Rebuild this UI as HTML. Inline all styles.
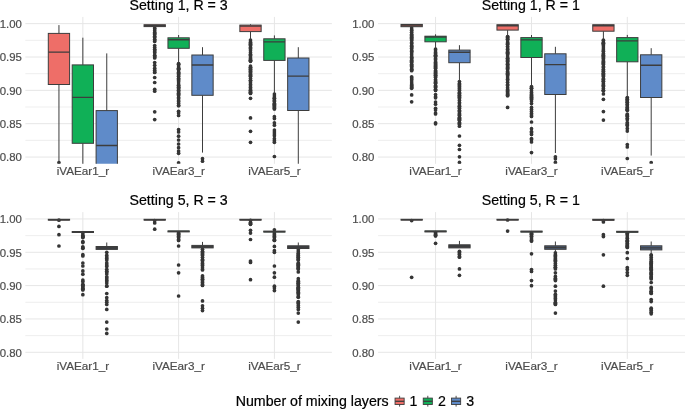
<!DOCTYPE html>
<html lang="en"><head><meta charset="utf-8"><title>Boxplots</title>
<style>html,body{margin:0;padding:0;background:#fff}svg{display:block}</style></head>
<body>
<svg width="685" height="409" viewBox="0 0 685 409" font-family="'Liberation Sans', Arial, Helvetica, sans-serif">
<rect width="685" height="409" fill="#fff"/>
<line x1="25.35" x2="331.9" y1="40.33" y2="40.33" stroke="#e3e3e3" stroke-width="0.6"/>
<line x1="25.35" x2="331.9" y1="73.68" y2="73.68" stroke="#e3e3e3" stroke-width="0.6"/>
<line x1="25.35" x2="331.9" y1="107.03" y2="107.03" stroke="#e3e3e3" stroke-width="0.6"/>
<line x1="25.35" x2="331.9" y1="140.38" y2="140.38" stroke="#e3e3e3" stroke-width="0.6"/>
<line x1="25.35" x2="331.9" y1="23.65" y2="23.65" stroke="#e6e6e6" stroke-width="1"/>
<text x="21.9" y="28.05" font-size="11.4" fill="#4d4d4d" stroke="#4d4d4d" stroke-width="0.2" text-anchor="end">1.00</text>
<line x1="25.35" x2="331.9" y1="57.00" y2="57.00" stroke="#e6e6e6" stroke-width="1"/>
<text x="21.9" y="61.40" font-size="11.4" fill="#4d4d4d" stroke="#4d4d4d" stroke-width="0.2" text-anchor="end">0.95</text>
<line x1="25.35" x2="331.9" y1="90.35" y2="90.35" stroke="#e6e6e6" stroke-width="1"/>
<text x="21.9" y="94.75" font-size="11.4" fill="#4d4d4d" stroke="#4d4d4d" stroke-width="0.2" text-anchor="end">0.90</text>
<line x1="25.35" x2="331.9" y1="123.70" y2="123.70" stroke="#e6e6e6" stroke-width="1"/>
<text x="21.9" y="128.10" font-size="11.4" fill="#4d4d4d" stroke="#4d4d4d" stroke-width="0.2" text-anchor="end">0.85</text>
<line x1="25.35" x2="331.9" y1="157.05" y2="157.05" stroke="#e6e6e6" stroke-width="1"/>
<text x="21.9" y="161.45" font-size="11.4" fill="#4d4d4d" stroke="#4d4d4d" stroke-width="0.2" text-anchor="end">0.80</text>
<line x1="82.85" x2="82.85" y1="16.9" y2="163.8" stroke="#e6e6e6" stroke-width="1"/>
<line x1="178.6" x2="178.6" y1="16.9" y2="163.8" stroke="#e6e6e6" stroke-width="1"/>
<line x1="274.4" x2="274.4" y1="16.9" y2="163.8" stroke="#e6e6e6" stroke-width="1"/>
<text x="82.85" y="175.35" font-size="11.7" fill="#4d4d4d" stroke="#4d4d4d" stroke-width="0.2" text-anchor="middle">iVAEar1_r</text>
<text x="178.6" y="175.35" font-size="11.7" fill="#4d4d4d" stroke="#4d4d4d" stroke-width="0.2" text-anchor="middle">iVAEar3_r</text>
<text x="274.4" y="175.35" font-size="11.7" fill="#4d4d4d" stroke="#4d4d4d" stroke-width="0.2" text-anchor="middle">iVAEar5_r</text>
<text x="178.62" y="9.80" font-size="14.2" fill="#000" stroke="#000" stroke-width="0.2" text-anchor="middle">Setting 1, R = 3</text>
<line x1="378.05" x2="685" y1="40.33" y2="40.33" stroke="#e3e3e3" stroke-width="0.6"/>
<line x1="378.05" x2="685" y1="73.68" y2="73.68" stroke="#e3e3e3" stroke-width="0.6"/>
<line x1="378.05" x2="685" y1="107.03" y2="107.03" stroke="#e3e3e3" stroke-width="0.6"/>
<line x1="378.05" x2="685" y1="140.38" y2="140.38" stroke="#e3e3e3" stroke-width="0.6"/>
<line x1="378.05" x2="685" y1="23.65" y2="23.65" stroke="#e6e6e6" stroke-width="1"/>
<text x="374.4" y="28.05" font-size="11.4" fill="#4d4d4d" stroke="#4d4d4d" stroke-width="0.2" text-anchor="end">1.00</text>
<line x1="378.05" x2="685" y1="57.00" y2="57.00" stroke="#e6e6e6" stroke-width="1"/>
<text x="374.4" y="61.40" font-size="11.4" fill="#4d4d4d" stroke="#4d4d4d" stroke-width="0.2" text-anchor="end">0.95</text>
<line x1="378.05" x2="685" y1="90.35" y2="90.35" stroke="#e6e6e6" stroke-width="1"/>
<text x="374.4" y="94.75" font-size="11.4" fill="#4d4d4d" stroke="#4d4d4d" stroke-width="0.2" text-anchor="end">0.90</text>
<line x1="378.05" x2="685" y1="123.70" y2="123.70" stroke="#e6e6e6" stroke-width="1"/>
<text x="374.4" y="128.10" font-size="11.4" fill="#4d4d4d" stroke="#4d4d4d" stroke-width="0.2" text-anchor="end">0.85</text>
<line x1="378.05" x2="685" y1="157.05" y2="157.05" stroke="#e6e6e6" stroke-width="1"/>
<text x="374.4" y="161.45" font-size="11.4" fill="#4d4d4d" stroke="#4d4d4d" stroke-width="0.2" text-anchor="end">0.80</text>
<line x1="435.55" x2="435.55" y1="16.9" y2="163.8" stroke="#e6e6e6" stroke-width="1"/>
<line x1="531.5" x2="531.5" y1="16.9" y2="163.8" stroke="#e6e6e6" stroke-width="1"/>
<line x1="627.3" x2="627.3" y1="16.9" y2="163.8" stroke="#e6e6e6" stroke-width="1"/>
<text x="435.55" y="175.35" font-size="11.7" fill="#4d4d4d" stroke="#4d4d4d" stroke-width="0.2" text-anchor="middle">iVAEar1_r</text>
<text x="531.5" y="175.35" font-size="11.7" fill="#4d4d4d" stroke="#4d4d4d" stroke-width="0.2" text-anchor="middle">iVAEar3_r</text>
<text x="627.3" y="175.35" font-size="11.7" fill="#4d4d4d" stroke="#4d4d4d" stroke-width="0.2" text-anchor="middle">iVAEar5_r</text>
<text x="530.80" y="9.80" font-size="14.2" fill="#000" stroke="#000" stroke-width="0.2" text-anchor="middle">Setting 1, R = 1</text>
<line x1="25.35" x2="331.9" y1="235.62" y2="235.62" stroke="#e3e3e3" stroke-width="0.6"/>
<line x1="25.35" x2="331.9" y1="268.96" y2="268.96" stroke="#e3e3e3" stroke-width="0.6"/>
<line x1="25.35" x2="331.9" y1="302.29" y2="302.29" stroke="#e3e3e3" stroke-width="0.6"/>
<line x1="25.35" x2="331.9" y1="335.63" y2="335.63" stroke="#e3e3e3" stroke-width="0.6"/>
<line x1="25.35" x2="331.9" y1="218.95" y2="218.95" stroke="#e6e6e6" stroke-width="1"/>
<text x="21.9" y="223.35" font-size="11.4" fill="#4d4d4d" stroke="#4d4d4d" stroke-width="0.2" text-anchor="end">1.00</text>
<line x1="25.35" x2="331.9" y1="252.29" y2="252.29" stroke="#e6e6e6" stroke-width="1"/>
<text x="21.9" y="256.69" font-size="11.4" fill="#4d4d4d" stroke="#4d4d4d" stroke-width="0.2" text-anchor="end">0.95</text>
<line x1="25.35" x2="331.9" y1="285.62" y2="285.62" stroke="#e6e6e6" stroke-width="1"/>
<text x="21.9" y="290.02" font-size="11.4" fill="#4d4d4d" stroke="#4d4d4d" stroke-width="0.2" text-anchor="end">0.90</text>
<line x1="25.35" x2="331.9" y1="318.96" y2="318.96" stroke="#e6e6e6" stroke-width="1"/>
<text x="21.9" y="323.36" font-size="11.4" fill="#4d4d4d" stroke="#4d4d4d" stroke-width="0.2" text-anchor="end">0.85</text>
<line x1="25.35" x2="331.9" y1="352.30" y2="352.30" stroke="#e6e6e6" stroke-width="1"/>
<text x="21.9" y="356.70" font-size="11.4" fill="#4d4d4d" stroke="#4d4d4d" stroke-width="0.2" text-anchor="end">0.80</text>
<line x1="82.85" x2="82.85" y1="212.1" y2="358.9" stroke="#e6e6e6" stroke-width="1"/>
<line x1="178.6" x2="178.6" y1="212.1" y2="358.9" stroke="#e6e6e6" stroke-width="1"/>
<line x1="274.4" x2="274.4" y1="212.1" y2="358.9" stroke="#e6e6e6" stroke-width="1"/>
<text x="82.85" y="370.25" font-size="11.7" fill="#4d4d4d" stroke="#4d4d4d" stroke-width="0.2" text-anchor="middle">iVAEar1_r</text>
<text x="178.6" y="370.25" font-size="11.7" fill="#4d4d4d" stroke="#4d4d4d" stroke-width="0.2" text-anchor="middle">iVAEar3_r</text>
<text x="274.4" y="370.25" font-size="11.7" fill="#4d4d4d" stroke="#4d4d4d" stroke-width="0.2" text-anchor="middle">iVAEar5_r</text>
<text x="178.62" y="205.25" font-size="14.2" fill="#000" stroke="#000" stroke-width="0.2" text-anchor="middle">Setting 5, R = 3</text>
<line x1="378.05" x2="685" y1="235.62" y2="235.62" stroke="#e3e3e3" stroke-width="0.6"/>
<line x1="378.05" x2="685" y1="268.96" y2="268.96" stroke="#e3e3e3" stroke-width="0.6"/>
<line x1="378.05" x2="685" y1="302.29" y2="302.29" stroke="#e3e3e3" stroke-width="0.6"/>
<line x1="378.05" x2="685" y1="335.63" y2="335.63" stroke="#e3e3e3" stroke-width="0.6"/>
<line x1="378.05" x2="685" y1="218.95" y2="218.95" stroke="#e6e6e6" stroke-width="1"/>
<text x="374.4" y="223.35" font-size="11.4" fill="#4d4d4d" stroke="#4d4d4d" stroke-width="0.2" text-anchor="end">1.00</text>
<line x1="378.05" x2="685" y1="252.29" y2="252.29" stroke="#e6e6e6" stroke-width="1"/>
<text x="374.4" y="256.69" font-size="11.4" fill="#4d4d4d" stroke="#4d4d4d" stroke-width="0.2" text-anchor="end">0.95</text>
<line x1="378.05" x2="685" y1="285.62" y2="285.62" stroke="#e6e6e6" stroke-width="1"/>
<text x="374.4" y="290.02" font-size="11.4" fill="#4d4d4d" stroke="#4d4d4d" stroke-width="0.2" text-anchor="end">0.90</text>
<line x1="378.05" x2="685" y1="318.96" y2="318.96" stroke="#e6e6e6" stroke-width="1"/>
<text x="374.4" y="323.36" font-size="11.4" fill="#4d4d4d" stroke="#4d4d4d" stroke-width="0.2" text-anchor="end">0.85</text>
<line x1="378.05" x2="685" y1="352.30" y2="352.30" stroke="#e6e6e6" stroke-width="1"/>
<text x="374.4" y="356.70" font-size="11.4" fill="#4d4d4d" stroke="#4d4d4d" stroke-width="0.2" text-anchor="end">0.80</text>
<line x1="435.55" x2="435.55" y1="212.1" y2="358.9" stroke="#e6e6e6" stroke-width="1"/>
<line x1="531.5" x2="531.5" y1="212.1" y2="358.9" stroke="#e6e6e6" stroke-width="1"/>
<line x1="627.3" x2="627.3" y1="212.1" y2="358.9" stroke="#e6e6e6" stroke-width="1"/>
<text x="435.55" y="370.25" font-size="11.7" fill="#4d4d4d" stroke="#4d4d4d" stroke-width="0.2" text-anchor="middle">iVAEar1_r</text>
<text x="531.5" y="370.25" font-size="11.7" fill="#4d4d4d" stroke="#4d4d4d" stroke-width="0.2" text-anchor="middle">iVAEar3_r</text>
<text x="627.3" y="370.25" font-size="11.7" fill="#4d4d4d" stroke="#4d4d4d" stroke-width="0.2" text-anchor="middle">iVAEar5_r</text>
<text x="530.80" y="205.25" font-size="14.2" fill="#000" stroke="#000" stroke-width="0.2" text-anchor="middle">Setting 5, R = 1</text>
<defs>
<clipPath id="c0"><rect x="25.35" y="16.9" width="306.54999999999995" height="146.9"/></clipPath>
<clipPath id="c1"><rect x="378.05" y="16.9" width="306.95" height="146.9"/></clipPath>
<clipPath id="c2"><rect x="25.35" y="212.1" width="306.54999999999995" height="146.79999999999998"/></clipPath>
<clipPath id="c3"><rect x="378.05" y="212.1" width="306.95" height="146.79999999999998"/></clipPath>
</defs>
<g clip-path="url(#c0)">
<circle cx="58.95" cy="162.60" r="1.85" fill="#353535"/>
<line x1="58.95" x2="58.95" y1="25.10" y2="33.40" stroke="#3d3d3d" stroke-width="1.0"/>
<line x1="58.95" x2="58.95" y1="84.50" y2="170.00" stroke="#3d3d3d" stroke-width="1.0"/>
<rect x="48.30" y="33.40" width="21.3" height="51.10" fill="#EE6E68" stroke="#3d3d3d" stroke-width="1.0"/>
<line x1="48.30" x2="69.60" y1="52.10" y2="52.10" stroke="#3d3d3d" stroke-width="1.35"/>
</g>
<g clip-path="url(#c0)">
<line x1="82.85" x2="82.85" y1="37.70" y2="64.90" stroke="#3d3d3d" stroke-width="1.0"/>
<line x1="82.85" x2="82.85" y1="143.30" y2="170.00" stroke="#3d3d3d" stroke-width="1.0"/>
<rect x="72.20" y="64.90" width="21.3" height="78.40" fill="#10B057" stroke="#3d3d3d" stroke-width="1.0"/>
<line x1="72.20" x2="93.50" y1="97.40" y2="97.40" stroke="#3d3d3d" stroke-width="1.35"/>
</g>
<g clip-path="url(#c0)">
<line x1="106.75" x2="106.75" y1="53.40" y2="110.60" stroke="#3d3d3d" stroke-width="1.0"/>
<rect x="96.10" y="110.60" width="21.3" height="64.90" fill="#5F8BC9" stroke="#3d3d3d" stroke-width="1.0"/>
<line x1="96.10" x2="117.40" y1="145.50" y2="145.50" stroke="#3d3d3d" stroke-width="1.35"/>
</g>
<g clip-path="url(#c0)">
<circle cx="154.70" cy="28.00" r="1.85" fill="#353535"/>
<circle cx="154.70" cy="28.80" r="1.85" fill="#353535"/>
<circle cx="154.70" cy="30.70" r="1.85" fill="#353535"/>
<circle cx="154.70" cy="32.60" r="1.85" fill="#353535"/>
<circle cx="154.70" cy="33.40" r="1.85" fill="#353535"/>
<circle cx="154.70" cy="34.40" r="1.85" fill="#353535"/>
<circle cx="154.70" cy="36.30" r="1.85" fill="#353535"/>
<circle cx="154.70" cy="37.60" r="1.85" fill="#353535"/>
<circle cx="154.70" cy="39.50" r="1.85" fill="#353535"/>
<circle cx="154.70" cy="40.00" r="1.85" fill="#353535"/>
<circle cx="154.70" cy="41.50" r="1.85" fill="#353535"/>
<circle cx="154.70" cy="45.50" r="1.85" fill="#353535"/>
<circle cx="154.70" cy="47.50" r="1.85" fill="#353535"/>
<circle cx="154.70" cy="49.50" r="1.85" fill="#353535"/>
<circle cx="154.70" cy="50.10" r="1.85" fill="#353535"/>
<circle cx="154.70" cy="51.66" r="1.85" fill="#353535"/>
<circle cx="154.70" cy="52.86" r="1.85" fill="#353535"/>
<circle cx="154.70" cy="55.14" r="1.85" fill="#353535"/>
<circle cx="154.70" cy="56.10" r="1.85" fill="#353535"/>
<circle cx="154.70" cy="57.06" r="1.85" fill="#353535"/>
<circle cx="154.70" cy="58.00" r="1.85" fill="#353535"/>
<circle cx="154.70" cy="62.50" r="1.85" fill="#353535"/>
<circle cx="154.70" cy="65.35" r="1.85" fill="#353535"/>
<circle cx="154.70" cy="68.20" r="1.85" fill="#353535"/>
<circle cx="154.70" cy="70.15" r="1.85" fill="#353535"/>
<circle cx="154.70" cy="72.10" r="1.85" fill="#353535"/>
<circle cx="154.70" cy="72.50" r="1.85" fill="#353535"/>
<circle cx="154.70" cy="77.50" r="1.85" fill="#353535"/>
<circle cx="154.70" cy="82.50" r="1.85" fill="#353535"/>
<circle cx="154.70" cy="89.30" r="1.85" fill="#353535"/>
<circle cx="154.70" cy="91.20" r="1.85" fill="#353535"/>
<circle cx="154.70" cy="111.80" r="1.85" fill="#353535"/>
<circle cx="154.70" cy="119.60" r="1.85" fill="#353535"/>
<rect x="144.05" y="24.70" width="21.3" height="1.90" fill="#EE6E68" stroke="#3d3d3d" stroke-width="1.0"/>
<line x1="144.05" x2="165.35" y1="25.70" y2="25.70" stroke="#3d3d3d" stroke-width="1.35"/>
</g>
<g clip-path="url(#c0)">
<circle cx="178.60" cy="63.50" r="1.85" fill="#353535"/>
<circle cx="178.60" cy="64.30" r="1.85" fill="#353535"/>
<circle cx="178.60" cy="65.10" r="1.85" fill="#353535"/>
<circle cx="178.60" cy="67.00" r="1.85" fill="#353535"/>
<circle cx="178.60" cy="68.30" r="1.85" fill="#353535"/>
<circle cx="178.60" cy="68.80" r="1.85" fill="#353535"/>
<circle cx="178.60" cy="69.30" r="1.85" fill="#353535"/>
<circle cx="178.60" cy="70.10" r="1.85" fill="#353535"/>
<circle cx="178.60" cy="72.00" r="1.85" fill="#353535"/>
<circle cx="178.60" cy="72.50" r="1.85" fill="#353535"/>
<circle cx="178.60" cy="73.50" r="1.85" fill="#353535"/>
<circle cx="178.60" cy="74.00" r="1.85" fill="#353535"/>
<circle cx="178.60" cy="75.00" r="1.85" fill="#353535"/>
<circle cx="178.60" cy="76.30" r="1.85" fill="#353535"/>
<circle cx="178.60" cy="78.20" r="1.85" fill="#353535"/>
<circle cx="178.60" cy="79.50" r="1.85" fill="#353535"/>
<circle cx="178.60" cy="80.80" r="1.85" fill="#353535"/>
<circle cx="178.60" cy="82.10" r="1.85" fill="#353535"/>
<circle cx="178.60" cy="84.00" r="1.85" fill="#353535"/>
<circle cx="178.60" cy="85.30" r="1.85" fill="#353535"/>
<circle cx="178.60" cy="86.10" r="1.85" fill="#353535"/>
<circle cx="178.60" cy="87.10" r="1.85" fill="#353535"/>
<circle cx="178.60" cy="87.60" r="1.85" fill="#353535"/>
<circle cx="178.60" cy="88.10" r="1.85" fill="#353535"/>
<circle cx="178.60" cy="88.90" r="1.85" fill="#353535"/>
<circle cx="178.60" cy="90.20" r="1.85" fill="#353535"/>
<circle cx="178.60" cy="91.00" r="1.85" fill="#353535"/>
<circle cx="178.60" cy="92.00" r="1.85" fill="#353535"/>
<circle cx="178.60" cy="93.30" r="1.85" fill="#353535"/>
<circle cx="178.60" cy="94.30" r="1.85" fill="#353535"/>
<circle cx="178.60" cy="95.60" r="1.85" fill="#353535"/>
<circle cx="178.60" cy="97.50" r="1.85" fill="#353535"/>
<circle cx="178.60" cy="98.80" r="1.85" fill="#353535"/>
<circle cx="178.60" cy="100.70" r="1.85" fill="#353535"/>
<circle cx="178.60" cy="101.70" r="1.85" fill="#353535"/>
<circle cx="178.60" cy="103.60" r="1.85" fill="#353535"/>
<circle cx="178.60" cy="105.50" r="1.85" fill="#353535"/>
<circle cx="178.60" cy="105.70" r="1.85" fill="#353535"/>
<circle cx="178.60" cy="111.30" r="1.85" fill="#353535"/>
<circle cx="178.60" cy="113.00" r="1.85" fill="#353535"/>
<circle cx="178.60" cy="115.50" r="1.85" fill="#353535"/>
<circle cx="178.60" cy="129.60" r="1.85" fill="#353535"/>
<circle cx="178.60" cy="132.00" r="1.85" fill="#353535"/>
<circle cx="178.60" cy="136.20" r="1.85" fill="#353535"/>
<circle cx="178.60" cy="140.00" r="1.85" fill="#353535"/>
<circle cx="178.60" cy="144.00" r="1.85" fill="#353535"/>
<circle cx="178.60" cy="147.70" r="1.85" fill="#353535"/>
<circle cx="178.60" cy="151.00" r="1.85" fill="#353535"/>
<circle cx="178.60" cy="153.30" r="1.85" fill="#353535"/>
<circle cx="178.60" cy="162.80" r="1.85" fill="#353535"/>
<line x1="178.60" x2="178.60" y1="35.00" y2="37.80" stroke="#3d3d3d" stroke-width="1.0"/>
<line x1="178.60" x2="178.60" y1="48.30" y2="62.80" stroke="#3d3d3d" stroke-width="1.0"/>
<rect x="167.95" y="37.80" width="21.3" height="10.50" fill="#10B057" stroke="#3d3d3d" stroke-width="1.0"/>
<line x1="167.95" x2="189.25" y1="39.70" y2="39.70" stroke="#3d3d3d" stroke-width="1.35"/>
</g>
<g clip-path="url(#c0)">
<circle cx="202.50" cy="158.70" r="1.85" fill="#353535"/>
<circle cx="202.50" cy="161.20" r="1.85" fill="#353535"/>
<line x1="202.50" x2="202.50" y1="47.20" y2="55.00" stroke="#3d3d3d" stroke-width="1.0"/>
<line x1="202.50" x2="202.50" y1="95.30" y2="152.60" stroke="#3d3d3d" stroke-width="1.0"/>
<rect x="191.85" y="55.00" width="21.3" height="40.30" fill="#5F8BC9" stroke="#3d3d3d" stroke-width="1.0"/>
<line x1="191.85" x2="213.15" y1="65.00" y2="65.00" stroke="#3d3d3d" stroke-width="1.35"/>
</g>
<g clip-path="url(#c0)">
<circle cx="250.50" cy="40.00" r="1.85" fill="#353535"/>
<circle cx="250.50" cy="41.90" r="1.85" fill="#353535"/>
<circle cx="250.50" cy="42.70" r="1.85" fill="#353535"/>
<circle cx="250.50" cy="43.70" r="1.85" fill="#353535"/>
<circle cx="250.50" cy="44.20" r="1.85" fill="#353535"/>
<circle cx="250.50" cy="45.20" r="1.85" fill="#353535"/>
<circle cx="250.50" cy="47.10" r="1.85" fill="#353535"/>
<circle cx="250.50" cy="47.90" r="1.85" fill="#353535"/>
<circle cx="250.50" cy="48.90" r="1.85" fill="#353535"/>
<circle cx="250.50" cy="50.80" r="1.85" fill="#353535"/>
<circle cx="250.50" cy="52.70" r="1.85" fill="#353535"/>
<circle cx="250.50" cy="54.60" r="1.85" fill="#353535"/>
<circle cx="250.50" cy="55.10" r="1.85" fill="#353535"/>
<circle cx="250.50" cy="55.90" r="1.85" fill="#353535"/>
<circle cx="250.50" cy="57.80" r="1.85" fill="#353535"/>
<circle cx="250.50" cy="58.80" r="1.85" fill="#353535"/>
<circle cx="250.50" cy="59.80" r="1.85" fill="#353535"/>
<circle cx="250.50" cy="60.30" r="1.85" fill="#353535"/>
<circle cx="250.50" cy="60.80" r="1.85" fill="#353535"/>
<circle cx="250.50" cy="61.30" r="1.85" fill="#353535"/>
<circle cx="250.50" cy="66.00" r="1.85" fill="#353535"/>
<circle cx="250.50" cy="67.30" r="1.85" fill="#353535"/>
<circle cx="250.50" cy="67.80" r="1.85" fill="#353535"/>
<circle cx="250.50" cy="68.80" r="1.85" fill="#353535"/>
<circle cx="250.50" cy="69.30" r="1.85" fill="#353535"/>
<circle cx="250.50" cy="70.60" r="1.85" fill="#353535"/>
<circle cx="250.50" cy="71.40" r="1.85" fill="#353535"/>
<circle cx="250.50" cy="71.90" r="1.85" fill="#353535"/>
<circle cx="250.50" cy="72.90" r="1.85" fill="#353535"/>
<circle cx="250.50" cy="74.20" r="1.85" fill="#353535"/>
<circle cx="250.50" cy="75.50" r="1.85" fill="#353535"/>
<circle cx="250.50" cy="76.00" r="1.85" fill="#353535"/>
<circle cx="250.50" cy="76.50" r="1.85" fill="#353535"/>
<circle cx="250.50" cy="78.40" r="1.85" fill="#353535"/>
<circle cx="250.50" cy="80.30" r="1.85" fill="#353535"/>
<circle cx="250.50" cy="80.80" r="1.85" fill="#353535"/>
<circle cx="250.50" cy="82.10" r="1.85" fill="#353535"/>
<circle cx="250.50" cy="84.00" r="1.85" fill="#353535"/>
<circle cx="250.50" cy="85.00" r="1.85" fill="#353535"/>
<circle cx="250.50" cy="86.90" r="1.85" fill="#353535"/>
<circle cx="250.50" cy="87.90" r="1.85" fill="#353535"/>
<circle cx="250.50" cy="89.80" r="1.85" fill="#353535"/>
<circle cx="250.50" cy="90.60" r="1.85" fill="#353535"/>
<circle cx="250.50" cy="91.10" r="1.85" fill="#353535"/>
<circle cx="250.50" cy="92.10" r="1.85" fill="#353535"/>
<circle cx="250.50" cy="92.60" r="1.85" fill="#353535"/>
<circle cx="250.50" cy="93.10" r="1.85" fill="#353535"/>
<circle cx="250.50" cy="93.40" r="1.85" fill="#353535"/>
<circle cx="250.50" cy="98.30" r="1.85" fill="#353535"/>
<circle cx="250.50" cy="117.90" r="1.85" fill="#353535"/>
<circle cx="250.50" cy="131.30" r="1.85" fill="#353535"/>
<circle cx="250.50" cy="142.30" r="1.85" fill="#353535"/>
<line x1="250.50" x2="250.50" y1="24.30" y2="25.10" stroke="#3d3d3d" stroke-width="1.0"/>
<line x1="250.50" x2="250.50" y1="31.60" y2="39.40" stroke="#3d3d3d" stroke-width="1.0"/>
<rect x="239.85" y="25.10" width="21.3" height="6.50" fill="#EE6E68" stroke="#3d3d3d" stroke-width="1.0"/>
<line x1="239.85" x2="261.15" y1="26.10" y2="26.10" stroke="#3d3d3d" stroke-width="1.35"/>
</g>
<g clip-path="url(#c0)">
<circle cx="274.40" cy="94.00" r="1.85" fill="#353535"/>
<circle cx="274.40" cy="95.90" r="1.85" fill="#353535"/>
<circle cx="274.40" cy="97.80" r="1.85" fill="#353535"/>
<circle cx="274.40" cy="98.30" r="1.85" fill="#353535"/>
<circle cx="274.40" cy="99.10" r="1.85" fill="#353535"/>
<circle cx="274.40" cy="100.40" r="1.85" fill="#353535"/>
<circle cx="274.40" cy="101.40" r="1.85" fill="#353535"/>
<circle cx="274.40" cy="103.30" r="1.85" fill="#353535"/>
<circle cx="274.40" cy="104.30" r="1.85" fill="#353535"/>
<circle cx="274.40" cy="105.10" r="1.85" fill="#353535"/>
<circle cx="274.40" cy="105.60" r="1.85" fill="#353535"/>
<circle cx="274.40" cy="106.60" r="1.85" fill="#353535"/>
<circle cx="274.40" cy="107.60" r="1.85" fill="#353535"/>
<circle cx="274.40" cy="108.60" r="1.85" fill="#353535"/>
<circle cx="274.40" cy="108.90" r="1.85" fill="#353535"/>
<circle cx="274.40" cy="116.70" r="1.85" fill="#353535"/>
<circle cx="274.40" cy="118.60" r="1.85" fill="#353535"/>
<circle cx="274.40" cy="122.80" r="1.85" fill="#353535"/>
<circle cx="274.40" cy="125.20" r="1.85" fill="#353535"/>
<circle cx="274.40" cy="130.00" r="1.85" fill="#353535"/>
<circle cx="274.40" cy="131.95" r="1.85" fill="#353535"/>
<circle cx="274.40" cy="133.90" r="1.85" fill="#353535"/>
<circle cx="274.40" cy="135.85" r="1.85" fill="#353535"/>
<circle cx="274.40" cy="138.70" r="1.85" fill="#353535"/>
<circle cx="274.40" cy="140.65" r="1.85" fill="#353535"/>
<circle cx="274.40" cy="142.30" r="1.85" fill="#353535"/>
<circle cx="274.40" cy="156.50" r="1.85" fill="#353535"/>
<line x1="274.40" x2="274.40" y1="35.40" y2="38.80" stroke="#3d3d3d" stroke-width="1.0"/>
<line x1="274.40" x2="274.40" y1="60.40" y2="93.40" stroke="#3d3d3d" stroke-width="1.0"/>
<rect x="263.75" y="38.80" width="21.3" height="21.60" fill="#10B057" stroke="#3d3d3d" stroke-width="1.0"/>
<line x1="263.75" x2="285.05" y1="41.90" y2="41.90" stroke="#3d3d3d" stroke-width="1.35"/>
</g>
<g clip-path="url(#c0)">
<line x1="298.30" x2="298.30" y1="47.20" y2="58.00" stroke="#3d3d3d" stroke-width="1.0"/>
<line x1="298.30" x2="298.30" y1="110.50" y2="170.00" stroke="#3d3d3d" stroke-width="1.0"/>
<rect x="287.65" y="58.00" width="21.3" height="52.50" fill="#5F8BC9" stroke="#3d3d3d" stroke-width="1.0"/>
<line x1="287.65" x2="308.95" y1="76.10" y2="76.10" stroke="#3d3d3d" stroke-width="1.35"/>
</g>
<g clip-path="url(#c1)">
<circle cx="411.65" cy="28.00" r="1.85" fill="#353535"/>
<circle cx="411.65" cy="29.90" r="1.85" fill="#353535"/>
<circle cx="411.65" cy="30.40" r="1.85" fill="#353535"/>
<circle cx="411.65" cy="32.30" r="1.85" fill="#353535"/>
<circle cx="411.65" cy="34.20" r="1.85" fill="#353535"/>
<circle cx="411.65" cy="35.20" r="1.85" fill="#353535"/>
<circle cx="411.65" cy="36.50" r="1.85" fill="#353535"/>
<circle cx="411.65" cy="37.30" r="1.85" fill="#353535"/>
<circle cx="411.65" cy="38.30" r="1.85" fill="#353535"/>
<circle cx="411.65" cy="39.60" r="1.85" fill="#353535"/>
<circle cx="411.65" cy="40.60" r="1.85" fill="#353535"/>
<circle cx="411.65" cy="42.50" r="1.85" fill="#353535"/>
<circle cx="411.65" cy="43.50" r="1.85" fill="#353535"/>
<circle cx="411.65" cy="45.40" r="1.85" fill="#353535"/>
<circle cx="411.65" cy="46.40" r="1.85" fill="#353535"/>
<circle cx="411.65" cy="46.90" r="1.85" fill="#353535"/>
<circle cx="411.65" cy="48.20" r="1.85" fill="#353535"/>
<circle cx="411.65" cy="50.10" r="1.85" fill="#353535"/>
<circle cx="411.65" cy="51.10" r="1.85" fill="#353535"/>
<circle cx="411.65" cy="51.60" r="1.85" fill="#353535"/>
<circle cx="411.65" cy="52.90" r="1.85" fill="#353535"/>
<circle cx="411.65" cy="54.80" r="1.85" fill="#353535"/>
<circle cx="411.65" cy="56.70" r="1.85" fill="#353535"/>
<circle cx="411.65" cy="57.50" r="1.85" fill="#353535"/>
<circle cx="411.65" cy="58.00" r="1.85" fill="#353535"/>
<circle cx="411.65" cy="59.00" r="1.85" fill="#353535"/>
<circle cx="411.65" cy="60.30" r="1.85" fill="#353535"/>
<circle cx="411.65" cy="61.30" r="1.85" fill="#353535"/>
<circle cx="411.65" cy="62.30" r="1.85" fill="#353535"/>
<circle cx="411.65" cy="64.20" r="1.85" fill="#353535"/>
<circle cx="411.65" cy="65.20" r="1.85" fill="#353535"/>
<circle cx="411.65" cy="66.50" r="1.85" fill="#353535"/>
<circle cx="411.65" cy="67.00" r="1.85" fill="#353535"/>
<circle cx="411.65" cy="68.90" r="1.85" fill="#353535"/>
<circle cx="411.65" cy="69.40" r="1.85" fill="#353535"/>
<circle cx="411.65" cy="69.90" r="1.85" fill="#353535"/>
<circle cx="411.65" cy="70.70" r="1.85" fill="#353535"/>
<circle cx="411.65" cy="76.80" r="1.85" fill="#353535"/>
<circle cx="411.65" cy="77.80" r="1.85" fill="#353535"/>
<circle cx="411.65" cy="79.10" r="1.85" fill="#353535"/>
<circle cx="411.65" cy="80.10" r="1.85" fill="#353535"/>
<circle cx="411.65" cy="82.00" r="1.85" fill="#353535"/>
<circle cx="411.65" cy="83.90" r="1.85" fill="#353535"/>
<circle cx="411.65" cy="84.90" r="1.85" fill="#353535"/>
<circle cx="411.65" cy="85.70" r="1.85" fill="#353535"/>
<circle cx="411.65" cy="86.70" r="1.85" fill="#353535"/>
<circle cx="411.65" cy="87.50" r="1.85" fill="#353535"/>
<circle cx="411.65" cy="88.30" r="1.85" fill="#353535"/>
<circle cx="411.65" cy="94.90" r="1.85" fill="#353535"/>
<circle cx="411.65" cy="101.80" r="1.85" fill="#353535"/>
<rect x="401.00" y="24.40" width="21.3" height="2.30" fill="#6a4643" stroke="#3d3d3d" stroke-width="1.0"/>
<line x1="401.00" x2="422.30" y1="24.60" y2="24.60" stroke="#3d3d3d" stroke-width="1.35"/>
</g>
<g clip-path="url(#c1)">
<circle cx="435.55" cy="49.00" r="1.85" fill="#353535"/>
<circle cx="435.55" cy="50.00" r="1.85" fill="#353535"/>
<circle cx="435.55" cy="51.90" r="1.85" fill="#353535"/>
<circle cx="435.55" cy="52.90" r="1.85" fill="#353535"/>
<circle cx="435.55" cy="53.90" r="1.85" fill="#353535"/>
<circle cx="435.55" cy="55.20" r="1.85" fill="#353535"/>
<circle cx="435.55" cy="55.70" r="1.85" fill="#353535"/>
<circle cx="435.55" cy="56.20" r="1.85" fill="#353535"/>
<circle cx="435.55" cy="58.10" r="1.85" fill="#353535"/>
<circle cx="435.55" cy="58.90" r="1.85" fill="#353535"/>
<circle cx="435.55" cy="59.90" r="1.85" fill="#353535"/>
<circle cx="435.55" cy="61.80" r="1.85" fill="#353535"/>
<circle cx="435.55" cy="62.60" r="1.85" fill="#353535"/>
<circle cx="435.55" cy="63.60" r="1.85" fill="#353535"/>
<circle cx="435.55" cy="64.40" r="1.85" fill="#353535"/>
<circle cx="435.55" cy="65.40" r="1.85" fill="#353535"/>
<circle cx="435.55" cy="66.20" r="1.85" fill="#353535"/>
<circle cx="435.55" cy="67.50" r="1.85" fill="#353535"/>
<circle cx="435.55" cy="68.00" r="1.85" fill="#353535"/>
<circle cx="435.55" cy="68.50" r="1.85" fill="#353535"/>
<circle cx="435.55" cy="70.40" r="1.85" fill="#353535"/>
<circle cx="435.55" cy="71.40" r="1.85" fill="#353535"/>
<circle cx="435.55" cy="72.40" r="1.85" fill="#353535"/>
<circle cx="435.55" cy="73.20" r="1.85" fill="#353535"/>
<circle cx="435.55" cy="74.50" r="1.85" fill="#353535"/>
<circle cx="435.55" cy="75.30" r="1.85" fill="#353535"/>
<circle cx="435.55" cy="75.80" r="1.85" fill="#353535"/>
<circle cx="435.55" cy="76.80" r="1.85" fill="#353535"/>
<circle cx="435.55" cy="77.60" r="1.85" fill="#353535"/>
<circle cx="435.55" cy="79.50" r="1.85" fill="#353535"/>
<circle cx="435.55" cy="80.80" r="1.85" fill="#353535"/>
<circle cx="435.55" cy="81.80" r="1.85" fill="#353535"/>
<circle cx="435.55" cy="82.60" r="1.85" fill="#353535"/>
<circle cx="435.55" cy="83.10" r="1.85" fill="#353535"/>
<circle cx="435.55" cy="83.60" r="1.85" fill="#353535"/>
<circle cx="435.55" cy="85.50" r="1.85" fill="#353535"/>
<circle cx="435.55" cy="86.30" r="1.85" fill="#353535"/>
<circle cx="435.55" cy="87.30" r="1.85" fill="#353535"/>
<circle cx="435.55" cy="89.20" r="1.85" fill="#353535"/>
<circle cx="435.55" cy="90.00" r="1.85" fill="#353535"/>
<circle cx="435.55" cy="90.50" r="1.85" fill="#353535"/>
<circle cx="435.55" cy="94.50" r="1.85" fill="#353535"/>
<circle cx="435.55" cy="96.70" r="1.85" fill="#353535"/>
<circle cx="435.55" cy="97.80" r="1.85" fill="#353535"/>
<circle cx="435.55" cy="101.98" r="1.85" fill="#353535"/>
<circle cx="435.55" cy="104.18" r="1.85" fill="#353535"/>
<circle cx="435.55" cy="108.36" r="1.85" fill="#353535"/>
<circle cx="435.55" cy="110.12" r="1.85" fill="#353535"/>
<circle cx="435.55" cy="112.98" r="1.85" fill="#353535"/>
<circle cx="435.55" cy="114.00" r="1.85" fill="#353535"/>
<circle cx="435.55" cy="122.80" r="1.85" fill="#353535"/>
<circle cx="435.55" cy="123.80" r="1.85" fill="#353535"/>
<line x1="435.55" x2="435.55" y1="34.30" y2="36.20" stroke="#3d3d3d" stroke-width="1.0"/>
<line x1="435.55" x2="435.55" y1="41.80" y2="48.20" stroke="#3d3d3d" stroke-width="1.0"/>
<rect x="424.90" y="36.20" width="21.3" height="5.60" fill="#10B057" stroke="#3d3d3d" stroke-width="1.0"/>
<line x1="424.90" x2="446.20" y1="37.00" y2="37.00" stroke="#3d3d3d" stroke-width="1.35"/>
</g>
<g clip-path="url(#c1)">
<circle cx="459.45" cy="81.50" r="1.85" fill="#353535"/>
<circle cx="459.45" cy="83.40" r="1.85" fill="#353535"/>
<circle cx="459.45" cy="84.40" r="1.85" fill="#353535"/>
<circle cx="459.45" cy="85.70" r="1.85" fill="#353535"/>
<circle cx="459.45" cy="86.70" r="1.85" fill="#353535"/>
<circle cx="459.45" cy="88.00" r="1.85" fill="#353535"/>
<circle cx="459.45" cy="89.00" r="1.85" fill="#353535"/>
<circle cx="459.45" cy="90.30" r="1.85" fill="#353535"/>
<circle cx="459.45" cy="92.20" r="1.85" fill="#353535"/>
<circle cx="459.45" cy="93.50" r="1.85" fill="#353535"/>
<circle cx="459.45" cy="94.00" r="1.85" fill="#353535"/>
<circle cx="459.45" cy="95.30" r="1.85" fill="#353535"/>
<circle cx="459.45" cy="96.10" r="1.85" fill="#353535"/>
<circle cx="459.45" cy="96.90" r="1.85" fill="#353535"/>
<circle cx="459.45" cy="97.40" r="1.85" fill="#353535"/>
<circle cx="459.45" cy="98.70" r="1.85" fill="#353535"/>
<circle cx="459.45" cy="100.60" r="1.85" fill="#353535"/>
<circle cx="459.45" cy="102.50" r="1.85" fill="#353535"/>
<circle cx="459.45" cy="103.80" r="1.85" fill="#353535"/>
<circle cx="459.45" cy="105.70" r="1.85" fill="#353535"/>
<circle cx="459.45" cy="106.50" r="1.85" fill="#353535"/>
<circle cx="459.45" cy="107.00" r="1.85" fill="#353535"/>
<circle cx="459.45" cy="108.30" r="1.85" fill="#353535"/>
<circle cx="459.45" cy="110.20" r="1.85" fill="#353535"/>
<circle cx="459.45" cy="111.20" r="1.85" fill="#353535"/>
<circle cx="459.45" cy="113.10" r="1.85" fill="#353535"/>
<circle cx="459.45" cy="114.10" r="1.85" fill="#353535"/>
<circle cx="459.45" cy="114.90" r="1.85" fill="#353535"/>
<circle cx="459.45" cy="115.40" r="1.85" fill="#353535"/>
<circle cx="459.45" cy="117.30" r="1.85" fill="#353535"/>
<circle cx="459.45" cy="118.30" r="1.85" fill="#353535"/>
<circle cx="459.45" cy="118.80" r="1.85" fill="#353535"/>
<circle cx="459.45" cy="119.60" r="1.85" fill="#353535"/>
<circle cx="459.45" cy="120.10" r="1.85" fill="#353535"/>
<circle cx="459.45" cy="120.60" r="1.85" fill="#353535"/>
<circle cx="459.45" cy="122.50" r="1.85" fill="#353535"/>
<circle cx="459.45" cy="123.30" r="1.85" fill="#353535"/>
<circle cx="459.45" cy="124.60" r="1.85" fill="#353535"/>
<circle cx="459.45" cy="126.20" r="1.85" fill="#353535"/>
<circle cx="459.45" cy="136.00" r="1.85" fill="#353535"/>
<circle cx="459.45" cy="145.30" r="1.85" fill="#353535"/>
<circle cx="459.45" cy="149.50" r="1.85" fill="#353535"/>
<circle cx="459.45" cy="156.80" r="1.85" fill="#353535"/>
<circle cx="459.45" cy="162.40" r="1.85" fill="#353535"/>
<circle cx="459.45" cy="165.00" r="1.85" fill="#353535"/>
<line x1="459.45" x2="459.45" y1="45.20" y2="50.10" stroke="#3d3d3d" stroke-width="1.0"/>
<line x1="459.45" x2="459.45" y1="62.70" y2="80.80" stroke="#3d3d3d" stroke-width="1.0"/>
<rect x="448.80" y="50.10" width="21.3" height="12.60" fill="#5F8BC9" stroke="#3d3d3d" stroke-width="1.0"/>
<line x1="448.80" x2="470.10" y1="52.20" y2="52.20" stroke="#3d3d3d" stroke-width="1.35"/>
</g>
<g clip-path="url(#c1)">
<circle cx="507.60" cy="36.50" r="1.85" fill="#353535"/>
<circle cx="507.60" cy="37.00" r="1.85" fill="#353535"/>
<circle cx="507.60" cy="37.50" r="1.85" fill="#353535"/>
<circle cx="507.60" cy="38.80" r="1.85" fill="#353535"/>
<circle cx="507.60" cy="39.30" r="1.85" fill="#353535"/>
<circle cx="507.60" cy="40.10" r="1.85" fill="#353535"/>
<circle cx="507.60" cy="42.00" r="1.85" fill="#353535"/>
<circle cx="507.60" cy="43.00" r="1.85" fill="#353535"/>
<circle cx="507.60" cy="43.80" r="1.85" fill="#353535"/>
<circle cx="507.60" cy="44.30" r="1.85" fill="#353535"/>
<circle cx="507.60" cy="46.20" r="1.85" fill="#353535"/>
<circle cx="507.60" cy="48.10" r="1.85" fill="#353535"/>
<circle cx="507.60" cy="49.40" r="1.85" fill="#353535"/>
<circle cx="507.60" cy="49.90" r="1.85" fill="#353535"/>
<circle cx="507.60" cy="51.80" r="1.85" fill="#353535"/>
<circle cx="507.60" cy="52.30" r="1.85" fill="#353535"/>
<circle cx="507.60" cy="53.30" r="1.85" fill="#353535"/>
<circle cx="507.60" cy="54.10" r="1.85" fill="#353535"/>
<circle cx="507.60" cy="55.10" r="1.85" fill="#353535"/>
<circle cx="507.60" cy="57.00" r="1.85" fill="#353535"/>
<circle cx="507.60" cy="58.30" r="1.85" fill="#353535"/>
<circle cx="507.60" cy="58.80" r="1.85" fill="#353535"/>
<circle cx="507.60" cy="59.80" r="1.85" fill="#353535"/>
<circle cx="507.60" cy="60.60" r="1.85" fill="#353535"/>
<circle cx="507.60" cy="61.40" r="1.85" fill="#353535"/>
<circle cx="507.60" cy="61.90" r="1.85" fill="#353535"/>
<circle cx="507.60" cy="63.80" r="1.85" fill="#353535"/>
<circle cx="507.60" cy="64.30" r="1.85" fill="#353535"/>
<circle cx="507.60" cy="65.10" r="1.85" fill="#353535"/>
<circle cx="507.60" cy="65.90" r="1.85" fill="#353535"/>
<circle cx="507.60" cy="66.90" r="1.85" fill="#353535"/>
<circle cx="507.60" cy="67.70" r="1.85" fill="#353535"/>
<circle cx="507.60" cy="68.20" r="1.85" fill="#353535"/>
<circle cx="507.60" cy="69.50" r="1.85" fill="#353535"/>
<circle cx="507.60" cy="71.40" r="1.85" fill="#353535"/>
<circle cx="507.60" cy="72.70" r="1.85" fill="#353535"/>
<circle cx="507.60" cy="73.20" r="1.85" fill="#353535"/>
<circle cx="507.60" cy="74.20" r="1.85" fill="#353535"/>
<circle cx="507.60" cy="75.00" r="1.85" fill="#353535"/>
<circle cx="507.60" cy="76.00" r="1.85" fill="#353535"/>
<circle cx="507.60" cy="77.90" r="1.85" fill="#353535"/>
<circle cx="507.60" cy="79.80" r="1.85" fill="#353535"/>
<circle cx="507.60" cy="79.80" r="1.85" fill="#353535"/>
<circle cx="507.60" cy="82.20" r="1.85" fill="#353535"/>
<circle cx="507.60" cy="84.54" r="1.85" fill="#353535"/>
<circle cx="507.60" cy="85.44" r="1.85" fill="#353535"/>
<circle cx="507.60" cy="87.78" r="1.85" fill="#353535"/>
<circle cx="507.60" cy="89.58" r="1.85" fill="#353535"/>
<circle cx="507.60" cy="90.48" r="1.85" fill="#353535"/>
<circle cx="507.60" cy="91.38" r="1.85" fill="#353535"/>
<circle cx="507.60" cy="92.82" r="1.85" fill="#353535"/>
<circle cx="507.60" cy="93.72" r="1.85" fill="#353535"/>
<circle cx="507.60" cy="94.62" r="1.85" fill="#353535"/>
<circle cx="507.60" cy="95.52" r="1.85" fill="#353535"/>
<circle cx="507.60" cy="95.70" r="1.85" fill="#353535"/>
<circle cx="507.60" cy="107.40" r="1.85" fill="#353535"/>
<line x1="507.60" x2="507.60" y1="24.30" y2="24.70" stroke="#3d3d3d" stroke-width="1.0"/>
<line x1="507.60" x2="507.60" y1="30.10" y2="36.00" stroke="#3d3d3d" stroke-width="1.0"/>
<rect x="496.95" y="24.70" width="21.3" height="5.40" fill="#EE6E68" stroke="#3d3d3d" stroke-width="1.0"/>
<line x1="496.95" x2="518.25" y1="25.70" y2="25.70" stroke="#3d3d3d" stroke-width="1.35"/>
</g>
<g clip-path="url(#c1)">
<circle cx="531.50" cy="86.50" r="1.85" fill="#353535"/>
<circle cx="531.50" cy="87.80" r="1.85" fill="#353535"/>
<circle cx="531.50" cy="88.30" r="1.85" fill="#353535"/>
<circle cx="531.50" cy="88.80" r="1.85" fill="#353535"/>
<circle cx="531.50" cy="90.70" r="1.85" fill="#353535"/>
<circle cx="531.50" cy="92.60" r="1.85" fill="#353535"/>
<circle cx="531.50" cy="93.90" r="1.85" fill="#353535"/>
<circle cx="531.50" cy="94.90" r="1.85" fill="#353535"/>
<circle cx="531.50" cy="95.70" r="1.85" fill="#353535"/>
<circle cx="531.50" cy="96.70" r="1.85" fill="#353535"/>
<circle cx="531.50" cy="97.20" r="1.85" fill="#353535"/>
<circle cx="531.50" cy="98.20" r="1.85" fill="#353535"/>
<circle cx="531.50" cy="99.30" r="1.85" fill="#353535"/>
<circle cx="531.50" cy="101.00" r="1.85" fill="#353535"/>
<circle cx="531.50" cy="103.60" r="1.85" fill="#353535"/>
<circle cx="531.50" cy="107.40" r="1.85" fill="#353535"/>
<circle cx="531.50" cy="109.40" r="1.85" fill="#353535"/>
<circle cx="531.50" cy="111.40" r="1.85" fill="#353535"/>
<circle cx="531.50" cy="113.40" r="1.85" fill="#353535"/>
<circle cx="531.50" cy="115.00" r="1.85" fill="#353535"/>
<circle cx="531.50" cy="116.50" r="1.85" fill="#353535"/>
<circle cx="531.50" cy="122.00" r="1.85" fill="#353535"/>
<circle cx="531.50" cy="128.70" r="1.85" fill="#353535"/>
<circle cx="531.50" cy="131.56" r="1.85" fill="#353535"/>
<circle cx="531.50" cy="132.66" r="1.85" fill="#353535"/>
<circle cx="531.50" cy="134.42" r="1.85" fill="#353535"/>
<circle cx="531.50" cy="138.60" r="1.85" fill="#353535"/>
<circle cx="531.50" cy="139.70" r="1.85" fill="#353535"/>
<circle cx="531.50" cy="142.00" r="1.85" fill="#353535"/>
<circle cx="531.50" cy="152.60" r="1.85" fill="#353535"/>
<line x1="531.50" x2="531.50" y1="35.00" y2="37.60" stroke="#3d3d3d" stroke-width="1.0"/>
<line x1="531.50" x2="531.50" y1="57.50" y2="85.60" stroke="#3d3d3d" stroke-width="1.0"/>
<rect x="520.85" y="37.60" width="21.3" height="19.90" fill="#10B057" stroke="#3d3d3d" stroke-width="1.0"/>
<line x1="520.85" x2="542.15" y1="39.90" y2="39.90" stroke="#3d3d3d" stroke-width="1.35"/>
</g>
<g clip-path="url(#c1)">
<circle cx="555.40" cy="156.80" r="1.85" fill="#353535"/>
<circle cx="555.40" cy="158.80" r="1.85" fill="#353535"/>
<circle cx="555.40" cy="162.40" r="1.85" fill="#353535"/>
<line x1="555.40" x2="555.40" y1="46.80" y2="53.80" stroke="#3d3d3d" stroke-width="1.0"/>
<line x1="555.40" x2="555.40" y1="94.50" y2="153.00" stroke="#3d3d3d" stroke-width="1.0"/>
<rect x="544.75" y="53.80" width="21.3" height="40.70" fill="#5F8BC9" stroke="#3d3d3d" stroke-width="1.0"/>
<line x1="544.75" x2="566.05" y1="64.60" y2="64.60" stroke="#3d3d3d" stroke-width="1.35"/>
</g>
<g clip-path="url(#c1)">
<circle cx="603.40" cy="40.00" r="1.85" fill="#353535"/>
<circle cx="603.40" cy="40.50" r="1.85" fill="#353535"/>
<circle cx="603.40" cy="42.40" r="1.85" fill="#353535"/>
<circle cx="603.40" cy="43.20" r="1.85" fill="#353535"/>
<circle cx="603.40" cy="43.70" r="1.85" fill="#353535"/>
<circle cx="603.40" cy="44.70" r="1.85" fill="#353535"/>
<circle cx="603.40" cy="46.00" r="1.85" fill="#353535"/>
<circle cx="603.40" cy="47.90" r="1.85" fill="#353535"/>
<circle cx="603.40" cy="49.80" r="1.85" fill="#353535"/>
<circle cx="603.40" cy="51.10" r="1.85" fill="#353535"/>
<circle cx="603.40" cy="51.60" r="1.85" fill="#353535"/>
<circle cx="603.40" cy="53.50" r="1.85" fill="#353535"/>
<circle cx="603.40" cy="54.80" r="1.85" fill="#353535"/>
<circle cx="603.40" cy="55.30" r="1.85" fill="#353535"/>
<circle cx="603.40" cy="56.30" r="1.85" fill="#353535"/>
<circle cx="603.40" cy="57.60" r="1.85" fill="#353535"/>
<circle cx="603.40" cy="58.60" r="1.85" fill="#353535"/>
<circle cx="603.40" cy="59.90" r="1.85" fill="#353535"/>
<circle cx="603.40" cy="61.20" r="1.85" fill="#353535"/>
<circle cx="603.40" cy="62.50" r="1.85" fill="#353535"/>
<circle cx="603.40" cy="63.00" r="1.85" fill="#353535"/>
<circle cx="603.40" cy="63.80" r="1.85" fill="#353535"/>
<circle cx="603.40" cy="64.60" r="1.85" fill="#353535"/>
<circle cx="603.40" cy="66.50" r="1.85" fill="#353535"/>
<circle cx="603.40" cy="67.50" r="1.85" fill="#353535"/>
<circle cx="603.40" cy="69.40" r="1.85" fill="#353535"/>
<circle cx="603.40" cy="69.90" r="1.85" fill="#353535"/>
<circle cx="603.40" cy="71.20" r="1.85" fill="#353535"/>
<circle cx="603.40" cy="72.00" r="1.85" fill="#353535"/>
<circle cx="603.40" cy="73.30" r="1.85" fill="#353535"/>
<circle cx="603.40" cy="74.10" r="1.85" fill="#353535"/>
<circle cx="603.40" cy="74.60" r="1.85" fill="#353535"/>
<circle cx="603.40" cy="75.60" r="1.85" fill="#353535"/>
<circle cx="603.40" cy="76.60" r="1.85" fill="#353535"/>
<circle cx="603.40" cy="78.50" r="1.85" fill="#353535"/>
<circle cx="603.40" cy="79.50" r="1.85" fill="#353535"/>
<circle cx="603.40" cy="80.00" r="1.85" fill="#353535"/>
<circle cx="603.40" cy="81.30" r="1.85" fill="#353535"/>
<circle cx="603.40" cy="81.80" r="1.85" fill="#353535"/>
<circle cx="603.40" cy="83.70" r="1.85" fill="#353535"/>
<circle cx="603.40" cy="85.00" r="1.85" fill="#353535"/>
<circle cx="603.40" cy="85.50" r="1.85" fill="#353535"/>
<circle cx="603.40" cy="86.50" r="1.85" fill="#353535"/>
<circle cx="603.40" cy="88.40" r="1.85" fill="#353535"/>
<circle cx="603.40" cy="90.30" r="1.85" fill="#353535"/>
<circle cx="603.40" cy="90.80" r="1.85" fill="#353535"/>
<circle cx="603.40" cy="90.80" r="1.85" fill="#353535"/>
<circle cx="603.40" cy="94.00" r="1.85" fill="#353535"/>
<circle cx="603.40" cy="99.30" r="1.85" fill="#353535"/>
<circle cx="603.40" cy="111.60" r="1.85" fill="#353535"/>
<circle cx="603.40" cy="120.10" r="1.85" fill="#353535"/>
<line x1="603.40" x2="603.40" y1="24.30" y2="24.70" stroke="#3d3d3d" stroke-width="1.0"/>
<line x1="603.40" x2="603.40" y1="31.20" y2="39.40" stroke="#3d3d3d" stroke-width="1.0"/>
<rect x="592.75" y="24.70" width="21.3" height="6.50" fill="#EE6E68" stroke="#3d3d3d" stroke-width="1.0"/>
<line x1="592.75" x2="614.05" y1="25.70" y2="25.70" stroke="#3d3d3d" stroke-width="1.35"/>
</g>
<g clip-path="url(#c1)">
<circle cx="627.30" cy="97.50" r="1.85" fill="#353535"/>
<circle cx="627.30" cy="98.00" r="1.85" fill="#353535"/>
<circle cx="627.30" cy="99.30" r="1.85" fill="#353535"/>
<circle cx="627.30" cy="100.10" r="1.85" fill="#353535"/>
<circle cx="627.30" cy="100.90" r="1.85" fill="#353535"/>
<circle cx="627.30" cy="102.20" r="1.85" fill="#353535"/>
<circle cx="627.30" cy="102.70" r="1.85" fill="#353535"/>
<circle cx="627.30" cy="104.60" r="1.85" fill="#353535"/>
<circle cx="627.30" cy="105.10" r="1.85" fill="#353535"/>
<circle cx="627.30" cy="107.00" r="1.85" fill="#353535"/>
<circle cx="627.30" cy="107.50" r="1.85" fill="#353535"/>
<circle cx="627.30" cy="108.80" r="1.85" fill="#353535"/>
<circle cx="627.30" cy="109.60" r="1.85" fill="#353535"/>
<circle cx="627.30" cy="110.10" r="1.85" fill="#353535"/>
<circle cx="627.30" cy="110.30" r="1.85" fill="#353535"/>
<circle cx="627.30" cy="114.00" r="1.85" fill="#353535"/>
<circle cx="627.30" cy="114.75" r="1.85" fill="#353535"/>
<circle cx="627.30" cy="115.50" r="1.85" fill="#353535"/>
<circle cx="627.30" cy="116.25" r="1.85" fill="#353535"/>
<circle cx="627.30" cy="118.20" r="1.85" fill="#353535"/>
<circle cx="627.30" cy="119.70" r="1.85" fill="#353535"/>
<circle cx="627.30" cy="122.55" r="1.85" fill="#353535"/>
<circle cx="627.30" cy="124.05" r="1.85" fill="#353535"/>
<circle cx="627.30" cy="124.80" r="1.85" fill="#353535"/>
<circle cx="627.30" cy="125.55" r="1.85" fill="#353535"/>
<circle cx="627.30" cy="128.40" r="1.85" fill="#353535"/>
<circle cx="627.30" cy="131.10" r="1.85" fill="#353535"/>
<circle cx="627.30" cy="144.60" r="1.85" fill="#353535"/>
<circle cx="627.30" cy="147.00" r="1.85" fill="#353535"/>
<circle cx="627.30" cy="158.50" r="1.85" fill="#353535"/>
<line x1="627.30" x2="627.30" y1="34.90" y2="37.60" stroke="#3d3d3d" stroke-width="1.0"/>
<line x1="627.30" x2="627.30" y1="61.80" y2="96.90" stroke="#3d3d3d" stroke-width="1.0"/>
<rect x="616.65" y="37.60" width="21.3" height="24.20" fill="#10B057" stroke="#3d3d3d" stroke-width="1.0"/>
<line x1="616.65" x2="637.95" y1="40.90" y2="40.90" stroke="#3d3d3d" stroke-width="1.35"/>
</g>
<g clip-path="url(#c1)">
<circle cx="651.20" cy="162.60" r="1.85" fill="#353535"/>
<line x1="651.20" x2="651.20" y1="48.20" y2="54.80" stroke="#3d3d3d" stroke-width="1.0"/>
<line x1="651.20" x2="651.20" y1="97.50" y2="155.60" stroke="#3d3d3d" stroke-width="1.0"/>
<rect x="640.55" y="54.80" width="21.3" height="42.70" fill="#5F8BC9" stroke="#3d3d3d" stroke-width="1.0"/>
<line x1="640.55" x2="661.85" y1="65.20" y2="65.20" stroke="#3d3d3d" stroke-width="1.35"/>
</g>
<g clip-path="url(#c2)">
<circle cx="58.95" cy="220.20" r="1.85" fill="#353535"/>
<circle cx="58.95" cy="226.40" r="1.85" fill="#353535"/>
<circle cx="58.95" cy="234.70" r="1.85" fill="#353535"/>
<circle cx="58.95" cy="246.00" r="1.85" fill="#353535"/>
<rect x="48.30" y="219.30" width="21.3" height="0.80" fill="#EE6E68" stroke="#3d3d3d" stroke-width="1.0"/>
<line x1="48.30" x2="69.60" y1="219.70" y2="219.70" stroke="#3d3d3d" stroke-width="1.35"/>
</g>
<g clip-path="url(#c2)">
<circle cx="82.85" cy="233.70" r="1.85" fill="#353535"/>
<circle cx="82.85" cy="235.60" r="1.85" fill="#353535"/>
<circle cx="82.85" cy="236.40" r="1.85" fill="#353535"/>
<circle cx="82.85" cy="236.90" r="1.85" fill="#353535"/>
<circle cx="82.85" cy="237.60" r="1.85" fill="#353535"/>
<circle cx="82.85" cy="241.50" r="1.85" fill="#353535"/>
<circle cx="82.85" cy="242.60" r="1.85" fill="#353535"/>
<circle cx="82.85" cy="246.78" r="1.85" fill="#353535"/>
<circle cx="82.85" cy="247.88" r="1.85" fill="#353535"/>
<circle cx="82.85" cy="248.30" r="1.85" fill="#353535"/>
<circle cx="82.85" cy="254.70" r="1.85" fill="#353535"/>
<circle cx="82.85" cy="255.90" r="1.85" fill="#353535"/>
<circle cx="82.85" cy="263.00" r="1.85" fill="#353535"/>
<circle cx="82.85" cy="266.00" r="1.85" fill="#353535"/>
<circle cx="82.85" cy="270.90" r="1.85" fill="#353535"/>
<circle cx="82.85" cy="274.20" r="1.85" fill="#353535"/>
<circle cx="82.85" cy="280.10" r="1.85" fill="#353535"/>
<circle cx="82.85" cy="281.50" r="1.85" fill="#353535"/>
<circle cx="82.85" cy="284.16" r="1.85" fill="#353535"/>
<circle cx="82.85" cy="285.28" r="1.85" fill="#353535"/>
<circle cx="82.85" cy="285.98" r="1.85" fill="#353535"/>
<circle cx="82.85" cy="287.10" r="1.85" fill="#353535"/>
<circle cx="82.85" cy="288.22" r="1.85" fill="#353535"/>
<circle cx="82.85" cy="289.34" r="1.85" fill="#353535"/>
<circle cx="82.85" cy="289.90" r="1.85" fill="#353535"/>
<circle cx="82.85" cy="294.70" r="1.85" fill="#353535"/>
<rect x="72.20" y="231.50" width="21.3" height="1.00" fill="#10B057" stroke="#3d3d3d" stroke-width="1.0"/>
<line x1="72.20" x2="93.50" y1="232.00" y2="232.00" stroke="#3d3d3d" stroke-width="1.35"/>
</g>
<g clip-path="url(#c2)">
<circle cx="106.75" cy="252.30" r="1.85" fill="#353535"/>
<circle cx="106.75" cy="255.15" r="1.85" fill="#353535"/>
<circle cx="106.75" cy="257.10" r="1.85" fill="#353535"/>
<circle cx="106.75" cy="258.60" r="1.85" fill="#353535"/>
<circle cx="106.75" cy="260.10" r="1.85" fill="#353535"/>
<circle cx="106.75" cy="262.95" r="1.85" fill="#353535"/>
<circle cx="106.75" cy="264.90" r="1.85" fill="#353535"/>
<circle cx="106.75" cy="266.40" r="1.85" fill="#353535"/>
<circle cx="106.75" cy="269.25" r="1.85" fill="#353535"/>
<circle cx="106.75" cy="271.20" r="1.85" fill="#353535"/>
<circle cx="106.75" cy="271.95" r="1.85" fill="#353535"/>
<circle cx="106.75" cy="273.90" r="1.85" fill="#353535"/>
<circle cx="106.75" cy="276.75" r="1.85" fill="#353535"/>
<circle cx="106.75" cy="277.95" r="1.85" fill="#353535"/>
<circle cx="106.75" cy="279.90" r="1.85" fill="#353535"/>
<circle cx="106.75" cy="281.10" r="1.85" fill="#353535"/>
<circle cx="106.75" cy="283.05" r="1.85" fill="#353535"/>
<circle cx="106.75" cy="285.90" r="1.85" fill="#353535"/>
<circle cx="106.75" cy="286.20" r="1.85" fill="#353535"/>
<circle cx="106.75" cy="293.50" r="1.85" fill="#353535"/>
<circle cx="106.75" cy="297.68" r="1.85" fill="#353535"/>
<circle cx="106.75" cy="300.54" r="1.85" fill="#353535"/>
<circle cx="106.75" cy="302.30" r="1.85" fill="#353535"/>
<circle cx="106.75" cy="304.50" r="1.85" fill="#353535"/>
<circle cx="106.75" cy="309.40" r="1.85" fill="#353535"/>
<circle cx="106.75" cy="322.10" r="1.85" fill="#353535"/>
<circle cx="106.75" cy="329.00" r="1.85" fill="#353535"/>
<circle cx="106.75" cy="333.40" r="1.85" fill="#353535"/>
<line x1="106.75" x2="106.75" y1="242.50" y2="246.50" stroke="#3d3d3d" stroke-width="1.0"/>
<rect x="96.10" y="246.50" width="21.3" height="2.90" fill="#3d4048" stroke="#3d3d3d" stroke-width="1.0"/>
<line x1="96.10" x2="117.40" y1="247.90" y2="247.90" stroke="#3d3d3d" stroke-width="1.35"/>
</g>
<g clip-path="url(#c2)">
<circle cx="154.70" cy="220.60" r="1.85" fill="#353535"/>
<circle cx="154.70" cy="222.90" r="1.85" fill="#353535"/>
<circle cx="154.70" cy="229.20" r="1.85" fill="#353535"/>
<rect x="144.05" y="219.30" width="21.3" height="0.80" fill="#EE6E68" stroke="#3d3d3d" stroke-width="1.0"/>
<line x1="144.05" x2="165.35" y1="219.70" y2="219.70" stroke="#3d3d3d" stroke-width="1.35"/>
</g>
<g clip-path="url(#c2)">
<circle cx="178.60" cy="232.80" r="1.85" fill="#353535"/>
<circle cx="178.60" cy="233.60" r="1.85" fill="#353535"/>
<circle cx="178.60" cy="234.40" r="1.85" fill="#353535"/>
<circle cx="178.60" cy="234.90" r="1.85" fill="#353535"/>
<circle cx="178.60" cy="236.20" r="1.85" fill="#353535"/>
<circle cx="178.60" cy="237.50" r="1.85" fill="#353535"/>
<circle cx="178.60" cy="239.40" r="1.85" fill="#353535"/>
<circle cx="178.60" cy="240.50" r="1.85" fill="#353535"/>
<circle cx="178.60" cy="246.00" r="1.85" fill="#353535"/>
<circle cx="178.60" cy="265.00" r="1.85" fill="#353535"/>
<circle cx="178.60" cy="272.80" r="1.85" fill="#353535"/>
<circle cx="178.60" cy="296.00" r="1.85" fill="#353535"/>
<rect x="167.95" y="230.90" width="21.3" height="1.00" fill="#10B057" stroke="#3d3d3d" stroke-width="1.0"/>
<line x1="167.95" x2="189.25" y1="231.40" y2="231.40" stroke="#3d3d3d" stroke-width="1.35"/>
</g>
<g clip-path="url(#c2)">
<circle cx="202.50" cy="249.30" r="1.85" fill="#353535"/>
<circle cx="202.50" cy="251.20" r="1.85" fill="#353535"/>
<circle cx="202.50" cy="252.00" r="1.85" fill="#353535"/>
<circle cx="202.50" cy="252.80" r="1.85" fill="#353535"/>
<circle cx="202.50" cy="253.80" r="1.85" fill="#353535"/>
<circle cx="202.50" cy="254.60" r="1.85" fill="#353535"/>
<circle cx="202.50" cy="255.40" r="1.85" fill="#353535"/>
<circle cx="202.50" cy="257.30" r="1.85" fill="#353535"/>
<circle cx="202.50" cy="259.20" r="1.85" fill="#353535"/>
<circle cx="202.50" cy="260.20" r="1.85" fill="#353535"/>
<circle cx="202.50" cy="261.00" r="1.85" fill="#353535"/>
<circle cx="202.50" cy="262.90" r="1.85" fill="#353535"/>
<circle cx="202.50" cy="263.90" r="1.85" fill="#353535"/>
<circle cx="202.50" cy="265.20" r="1.85" fill="#353535"/>
<circle cx="202.50" cy="267.10" r="1.85" fill="#353535"/>
<circle cx="202.50" cy="269.00" r="1.85" fill="#353535"/>
<circle cx="202.50" cy="269.90" r="1.85" fill="#353535"/>
<circle cx="202.50" cy="275.80" r="1.85" fill="#353535"/>
<circle cx="202.50" cy="277.00" r="1.85" fill="#353535"/>
<circle cx="202.50" cy="277.96" r="1.85" fill="#353535"/>
<circle cx="202.50" cy="279.16" r="1.85" fill="#353535"/>
<circle cx="202.50" cy="279.76" r="1.85" fill="#353535"/>
<circle cx="202.50" cy="280.96" r="1.85" fill="#353535"/>
<circle cx="202.50" cy="282.52" r="1.85" fill="#353535"/>
<circle cx="202.50" cy="284.08" r="1.85" fill="#353535"/>
<circle cx="202.50" cy="285.04" r="1.85" fill="#353535"/>
<circle cx="202.50" cy="285.50" r="1.85" fill="#353535"/>
<circle cx="202.50" cy="300.90" r="1.85" fill="#353535"/>
<circle cx="202.50" cy="305.80" r="1.85" fill="#353535"/>
<circle cx="202.50" cy="308.20" r="1.85" fill="#353535"/>
<circle cx="202.50" cy="310.60" r="1.85" fill="#353535"/>
<line x1="202.50" x2="202.50" y1="241.90" y2="245.40" stroke="#3d3d3d" stroke-width="1.0"/>
<rect x="191.85" y="245.40" width="21.3" height="2.50" fill="#3d4048" stroke="#3d3d3d" stroke-width="1.0"/>
<line x1="191.85" x2="213.15" y1="246.70" y2="246.70" stroke="#3d3d3d" stroke-width="1.35"/>
</g>
<g clip-path="url(#c2)">
<circle cx="250.50" cy="220.30" r="1.85" fill="#353535"/>
<circle cx="250.50" cy="222.20" r="1.85" fill="#353535"/>
<circle cx="250.50" cy="223.20" r="1.85" fill="#353535"/>
<circle cx="250.50" cy="224.00" r="1.85" fill="#353535"/>
<circle cx="250.50" cy="224.30" r="1.85" fill="#353535"/>
<circle cx="250.50" cy="230.30" r="1.85" fill="#353535"/>
<circle cx="250.50" cy="233.10" r="1.85" fill="#353535"/>
<circle cx="250.50" cy="239.50" r="1.85" fill="#353535"/>
<circle cx="250.50" cy="261.10" r="1.85" fill="#353535"/>
<circle cx="250.50" cy="262.40" r="1.85" fill="#353535"/>
<circle cx="250.50" cy="279.70" r="1.85" fill="#353535"/>
<rect x="239.85" y="219.30" width="21.3" height="0.80" fill="#EE6E68" stroke="#3d3d3d" stroke-width="1.0"/>
<line x1="239.85" x2="261.15" y1="219.70" y2="219.70" stroke="#3d3d3d" stroke-width="1.35"/>
</g>
<g clip-path="url(#c2)">
<circle cx="274.40" cy="229.80" r="1.85" fill="#353535"/>
<circle cx="274.40" cy="232.80" r="1.85" fill="#353535"/>
<circle cx="274.40" cy="234.10" r="1.85" fill="#353535"/>
<circle cx="274.40" cy="234.90" r="1.85" fill="#353535"/>
<circle cx="274.40" cy="236.20" r="1.85" fill="#353535"/>
<circle cx="274.40" cy="237.50" r="1.85" fill="#353535"/>
<circle cx="274.40" cy="239.40" r="1.85" fill="#353535"/>
<circle cx="274.40" cy="240.20" r="1.85" fill="#353535"/>
<circle cx="274.40" cy="240.50" r="1.85" fill="#353535"/>
<circle cx="274.40" cy="246.40" r="1.85" fill="#353535"/>
<circle cx="274.40" cy="250.70" r="1.85" fill="#353535"/>
<circle cx="274.40" cy="252.30" r="1.85" fill="#353535"/>
<circle cx="274.40" cy="266.00" r="1.85" fill="#353535"/>
<circle cx="274.40" cy="272.80" r="1.85" fill="#353535"/>
<circle cx="274.40" cy="277.20" r="1.85" fill="#353535"/>
<circle cx="274.40" cy="286.20" r="1.85" fill="#353535"/>
<circle cx="274.40" cy="288.10" r="1.85" fill="#353535"/>
<circle cx="274.40" cy="290.60" r="1.85" fill="#353535"/>
<rect x="263.75" y="231.10" width="21.3" height="1.00" fill="#10B057" stroke="#3d3d3d" stroke-width="1.0"/>
<line x1="263.75" x2="285.05" y1="231.60" y2="231.60" stroke="#3d3d3d" stroke-width="1.35"/>
</g>
<g clip-path="url(#c2)">
<circle cx="298.30" cy="249.80" r="1.85" fill="#353535"/>
<circle cx="298.30" cy="251.70" r="1.85" fill="#353535"/>
<circle cx="298.30" cy="253.60" r="1.85" fill="#353535"/>
<circle cx="298.30" cy="254.10" r="1.85" fill="#353535"/>
<circle cx="298.30" cy="255.40" r="1.85" fill="#353535"/>
<circle cx="298.30" cy="255.90" r="1.85" fill="#353535"/>
<circle cx="298.30" cy="257.20" r="1.85" fill="#353535"/>
<circle cx="298.30" cy="257.70" r="1.85" fill="#353535"/>
<circle cx="298.30" cy="259.00" r="1.85" fill="#353535"/>
<circle cx="298.30" cy="259.80" r="1.85" fill="#353535"/>
<circle cx="298.30" cy="260.10" r="1.85" fill="#353535"/>
<circle cx="298.30" cy="263.00" r="1.85" fill="#353535"/>
<circle cx="298.30" cy="263.50" r="1.85" fill="#353535"/>
<circle cx="298.30" cy="264.30" r="1.85" fill="#353535"/>
<circle cx="298.30" cy="265.30" r="1.85" fill="#353535"/>
<circle cx="298.30" cy="266.10" r="1.85" fill="#353535"/>
<circle cx="298.30" cy="266.90" r="1.85" fill="#353535"/>
<circle cx="298.30" cy="267.90" r="1.85" fill="#353535"/>
<circle cx="298.30" cy="268.70" r="1.85" fill="#353535"/>
<circle cx="298.30" cy="268.90" r="1.85" fill="#353535"/>
<circle cx="298.30" cy="271.90" r="1.85" fill="#353535"/>
<circle cx="298.30" cy="278.70" r="1.85" fill="#353535"/>
<circle cx="298.30" cy="280.79" r="1.85" fill="#353535"/>
<circle cx="298.30" cy="281.34" r="1.85" fill="#353535"/>
<circle cx="298.30" cy="282.44" r="1.85" fill="#353535"/>
<circle cx="298.30" cy="283.32" r="1.85" fill="#353535"/>
<circle cx="298.30" cy="283.87" r="1.85" fill="#353535"/>
<circle cx="298.30" cy="284.97" r="1.85" fill="#353535"/>
<circle cx="298.30" cy="285.85" r="1.85" fill="#353535"/>
<circle cx="298.30" cy="287.28" r="1.85" fill="#353535"/>
<circle cx="298.30" cy="287.83" r="1.85" fill="#353535"/>
<circle cx="298.30" cy="288.38" r="1.85" fill="#353535"/>
<circle cx="298.30" cy="288.93" r="1.85" fill="#353535"/>
<circle cx="298.30" cy="289.48" r="1.85" fill="#353535"/>
<circle cx="298.30" cy="290.58" r="1.85" fill="#353535"/>
<circle cx="298.30" cy="291.68" r="1.85" fill="#353535"/>
<circle cx="298.30" cy="292.23" r="1.85" fill="#353535"/>
<circle cx="298.30" cy="293.33" r="1.85" fill="#353535"/>
<circle cx="298.30" cy="294.76" r="1.85" fill="#353535"/>
<circle cx="298.30" cy="296.85" r="1.85" fill="#353535"/>
<circle cx="298.30" cy="297.20" r="1.85" fill="#353535"/>
<circle cx="298.30" cy="301.60" r="1.85" fill="#353535"/>
<circle cx="298.30" cy="302.55" r="1.85" fill="#353535"/>
<circle cx="298.30" cy="303.50" r="1.85" fill="#353535"/>
<circle cx="298.30" cy="305.40" r="1.85" fill="#353535"/>
<circle cx="298.30" cy="307.30" r="1.85" fill="#353535"/>
<circle cx="298.30" cy="309.40" r="1.85" fill="#353535"/>
<circle cx="298.30" cy="313.10" r="1.85" fill="#353535"/>
<circle cx="298.30" cy="322.10" r="1.85" fill="#353535"/>
<line x1="298.30" x2="298.30" y1="242.50" y2="245.80" stroke="#3d3d3d" stroke-width="1.0"/>
<rect x="287.65" y="245.80" width="21.3" height="2.70" fill="#3d4048" stroke="#3d3d3d" stroke-width="1.0"/>
<line x1="287.65" x2="308.95" y1="247.10" y2="247.10" stroke="#3d3d3d" stroke-width="1.35"/>
</g>
<g clip-path="url(#c3)">
<circle cx="411.65" cy="220.60" r="1.85" fill="#353535"/>
<circle cx="411.65" cy="277.30" r="1.85" fill="#353535"/>
<rect x="401.00" y="219.30" width="21.3" height="0.80" fill="#EE6E68" stroke="#3d3d3d" stroke-width="1.0"/>
<line x1="401.00" x2="422.30" y1="219.70" y2="219.70" stroke="#3d3d3d" stroke-width="1.35"/>
</g>
<g clip-path="url(#c3)">
<circle cx="435.55" cy="232.60" r="1.85" fill="#353535"/>
<circle cx="435.55" cy="233.64" r="1.85" fill="#353535"/>
<circle cx="435.55" cy="234.68" r="1.85" fill="#353535"/>
<circle cx="435.55" cy="235.08" r="1.85" fill="#353535"/>
<circle cx="435.55" cy="235.72" r="1.85" fill="#353535"/>
<circle cx="435.55" cy="235.80" r="1.85" fill="#353535"/>
<circle cx="435.55" cy="243.30" r="1.85" fill="#353535"/>
<rect x="424.90" y="230.90" width="21.3" height="1.00" fill="#10B057" stroke="#3d3d3d" stroke-width="1.0"/>
<line x1="424.90" x2="446.20" y1="231.40" y2="231.40" stroke="#3d3d3d" stroke-width="1.35"/>
</g>
<g clip-path="url(#c3)">
<circle cx="459.45" cy="251.30" r="1.85" fill="#353535"/>
<circle cx="459.45" cy="252.60" r="1.85" fill="#353535"/>
<circle cx="459.45" cy="253.90" r="1.85" fill="#353535"/>
<circle cx="459.45" cy="254.70" r="1.85" fill="#353535"/>
<circle cx="459.45" cy="256.60" r="1.85" fill="#353535"/>
<circle cx="459.45" cy="257.20" r="1.85" fill="#353535"/>
<circle cx="459.45" cy="268.90" r="1.85" fill="#353535"/>
<circle cx="459.45" cy="275.30" r="1.85" fill="#353535"/>
<line x1="459.45" x2="459.45" y1="240.90" y2="244.80" stroke="#3d3d3d" stroke-width="1.0"/>
<rect x="448.80" y="244.80" width="21.3" height="3.10" fill="#3d4048" stroke="#3d3d3d" stroke-width="1.0"/>
<line x1="448.80" x2="470.10" y1="246.30" y2="246.30" stroke="#3d3d3d" stroke-width="1.35"/>
</g>
<g clip-path="url(#c3)">
<circle cx="507.60" cy="220.00" r="1.85" fill="#353535"/>
<circle cx="507.60" cy="231.10" r="1.85" fill="#353535"/>
<rect x="496.95" y="219.30" width="21.3" height="0.80" fill="#EE6E68" stroke="#3d3d3d" stroke-width="1.0"/>
<line x1="496.95" x2="518.25" y1="219.70" y2="219.70" stroke="#3d3d3d" stroke-width="1.35"/>
</g>
<g clip-path="url(#c3)">
<circle cx="531.50" cy="232.80" r="1.85" fill="#353535"/>
<circle cx="531.50" cy="233.30" r="1.85" fill="#353535"/>
<circle cx="531.50" cy="234.30" r="1.85" fill="#353535"/>
<circle cx="531.50" cy="234.80" r="1.85" fill="#353535"/>
<circle cx="531.50" cy="236.10" r="1.85" fill="#353535"/>
<circle cx="531.50" cy="236.60" r="1.85" fill="#353535"/>
<circle cx="531.50" cy="237.90" r="1.85" fill="#353535"/>
<circle cx="531.50" cy="239.80" r="1.85" fill="#353535"/>
<circle cx="531.50" cy="240.80" r="1.85" fill="#353535"/>
<circle cx="531.50" cy="241.10" r="1.85" fill="#353535"/>
<circle cx="531.50" cy="253.80" r="1.85" fill="#353535"/>
<circle cx="531.50" cy="269.50" r="1.85" fill="#353535"/>
<circle cx="531.50" cy="271.40" r="1.85" fill="#353535"/>
<circle cx="531.50" cy="280.60" r="1.85" fill="#353535"/>
<circle cx="531.50" cy="285.70" r="1.85" fill="#353535"/>
<rect x="520.85" y="231.10" width="21.3" height="1.00" fill="#10B057" stroke="#3d3d3d" stroke-width="1.0"/>
<line x1="520.85" x2="542.15" y1="231.60" y2="231.60" stroke="#3d3d3d" stroke-width="1.35"/>
</g>
<g clip-path="url(#c3)">
<circle cx="555.40" cy="252.80" r="1.85" fill="#353535"/>
<circle cx="555.40" cy="254.70" r="1.85" fill="#353535"/>
<circle cx="555.40" cy="255.70" r="1.85" fill="#353535"/>
<circle cx="555.40" cy="256.70" r="1.85" fill="#353535"/>
<circle cx="555.40" cy="258.00" r="1.85" fill="#353535"/>
<circle cx="555.40" cy="259.00" r="1.85" fill="#353535"/>
<circle cx="555.40" cy="260.00" r="1.85" fill="#353535"/>
<circle cx="555.40" cy="260.50" r="1.85" fill="#353535"/>
<circle cx="555.40" cy="261.50" r="1.85" fill="#353535"/>
<circle cx="555.40" cy="263.40" r="1.85" fill="#353535"/>
<circle cx="555.40" cy="265.30" r="1.85" fill="#353535"/>
<circle cx="555.40" cy="267.20" r="1.85" fill="#353535"/>
<circle cx="555.40" cy="267.70" r="1.85" fill="#353535"/>
<circle cx="555.40" cy="268.90" r="1.85" fill="#353535"/>
<circle cx="555.40" cy="272.80" r="1.85" fill="#353535"/>
<circle cx="555.40" cy="276.41" r="1.85" fill="#353535"/>
<circle cx="555.40" cy="278.31" r="1.85" fill="#353535"/>
<circle cx="555.40" cy="279.26" r="1.85" fill="#353535"/>
<circle cx="555.40" cy="280.60" r="1.85" fill="#353535"/>
<circle cx="555.40" cy="286.20" r="1.85" fill="#353535"/>
<circle cx="555.40" cy="291.10" r="1.85" fill="#353535"/>
<circle cx="555.40" cy="294.33" r="1.85" fill="#353535"/>
<circle cx="555.40" cy="295.69" r="1.85" fill="#353535"/>
<circle cx="555.40" cy="297.05" r="1.85" fill="#353535"/>
<circle cx="555.40" cy="298.41" r="1.85" fill="#353535"/>
<circle cx="555.40" cy="300.11" r="1.85" fill="#353535"/>
<circle cx="555.40" cy="302.32" r="1.85" fill="#353535"/>
<circle cx="555.40" cy="303.17" r="1.85" fill="#353535"/>
<circle cx="555.40" cy="304.02" r="1.85" fill="#353535"/>
<circle cx="555.40" cy="304.50" r="1.85" fill="#353535"/>
<circle cx="555.40" cy="313.10" r="1.85" fill="#353535"/>
<line x1="555.40" x2="555.40" y1="241.50" y2="245.80" stroke="#3d3d3d" stroke-width="1.0"/>
<line x1="555.40" x2="555.40" y1="249.30" y2="252.30" stroke="#3d3d3d" stroke-width="1.0"/>
<rect x="544.75" y="245.80" width="21.3" height="3.50" fill="#4a5a75" stroke="#3d3d3d" stroke-width="1.0"/>
<line x1="544.75" x2="566.05" y1="247.50" y2="247.50" stroke="#3d3d3d" stroke-width="1.35"/>
</g>
<g clip-path="url(#c3)">
<circle cx="603.40" cy="220.60" r="1.85" fill="#353535"/>
<circle cx="603.40" cy="221.90" r="1.85" fill="#353535"/>
<circle cx="603.40" cy="234.70" r="1.85" fill="#353535"/>
<circle cx="603.40" cy="236.60" r="1.85" fill="#353535"/>
<circle cx="603.40" cy="254.80" r="1.85" fill="#353535"/>
<circle cx="603.40" cy="286.20" r="1.85" fill="#353535"/>
<rect x="592.75" y="219.30" width="21.3" height="1.00" fill="#EE6E68" stroke="#3d3d3d" stroke-width="1.0"/>
<line x1="592.75" x2="614.05" y1="219.80" y2="219.80" stroke="#3d3d3d" stroke-width="1.35"/>
</g>
<g clip-path="url(#c3)">
<circle cx="627.30" cy="233.30" r="1.85" fill="#353535"/>
<circle cx="627.30" cy="234.10" r="1.85" fill="#353535"/>
<circle cx="627.30" cy="235.10" r="1.85" fill="#353535"/>
<circle cx="627.30" cy="237.00" r="1.85" fill="#353535"/>
<circle cx="627.30" cy="238.30" r="1.85" fill="#353535"/>
<circle cx="627.30" cy="240.20" r="1.85" fill="#353535"/>
<circle cx="627.30" cy="241.20" r="1.85" fill="#353535"/>
<circle cx="627.30" cy="242.00" r="1.85" fill="#353535"/>
<circle cx="627.30" cy="243.30" r="1.85" fill="#353535"/>
<circle cx="627.30" cy="244.60" r="1.85" fill="#353535"/>
<circle cx="627.30" cy="245.60" r="1.85" fill="#353535"/>
<circle cx="627.30" cy="246.40" r="1.85" fill="#353535"/>
<circle cx="627.30" cy="246.90" r="1.85" fill="#353535"/>
<circle cx="627.30" cy="247.40" r="1.85" fill="#353535"/>
<circle cx="627.30" cy="252.70" r="1.85" fill="#353535"/>
<circle cx="627.30" cy="258.50" r="1.85" fill="#353535"/>
<circle cx="627.30" cy="267.50" r="1.85" fill="#353535"/>
<circle cx="627.30" cy="269.50" r="1.85" fill="#353535"/>
<circle cx="627.30" cy="272.50" r="1.85" fill="#353535"/>
<circle cx="627.30" cy="275.30" r="1.85" fill="#353535"/>
<rect x="616.65" y="231.30" width="21.3" height="1.00" fill="#10B057" stroke="#3d3d3d" stroke-width="1.0"/>
<line x1="616.65" x2="637.95" y1="231.80" y2="231.80" stroke="#3d3d3d" stroke-width="1.35"/>
</g>
<g clip-path="url(#c3)">
<circle cx="651.20" cy="254.80" r="1.85" fill="#353535"/>
<circle cx="651.20" cy="255.60" r="1.85" fill="#353535"/>
<circle cx="651.20" cy="257.50" r="1.85" fill="#353535"/>
<circle cx="651.20" cy="259.40" r="1.85" fill="#353535"/>
<circle cx="651.20" cy="261.30" r="1.85" fill="#353535"/>
<circle cx="651.20" cy="262.60" r="1.85" fill="#353535"/>
<circle cx="651.20" cy="263.60" r="1.85" fill="#353535"/>
<circle cx="651.20" cy="264.10" r="1.85" fill="#353535"/>
<circle cx="651.20" cy="265.10" r="1.85" fill="#353535"/>
<circle cx="651.20" cy="266.10" r="1.85" fill="#353535"/>
<circle cx="651.20" cy="267.40" r="1.85" fill="#353535"/>
<circle cx="651.20" cy="267.90" r="1.85" fill="#353535"/>
<circle cx="651.20" cy="268.70" r="1.85" fill="#353535"/>
<circle cx="651.20" cy="269.20" r="1.85" fill="#353535"/>
<circle cx="651.20" cy="270.50" r="1.85" fill="#353535"/>
<circle cx="651.20" cy="272.40" r="1.85" fill="#353535"/>
<circle cx="651.20" cy="273.40" r="1.85" fill="#353535"/>
<circle cx="651.20" cy="274.20" r="1.85" fill="#353535"/>
<circle cx="651.20" cy="276.10" r="1.85" fill="#353535"/>
<circle cx="651.20" cy="277.10" r="1.85" fill="#353535"/>
<circle cx="651.20" cy="278.10" r="1.85" fill="#353535"/>
<circle cx="651.20" cy="278.90" r="1.85" fill="#353535"/>
<circle cx="651.20" cy="282.50" r="1.85" fill="#353535"/>
<circle cx="651.20" cy="287.40" r="1.85" fill="#353535"/>
<circle cx="651.20" cy="288.96" r="1.85" fill="#353535"/>
<circle cx="651.20" cy="291.24" r="1.85" fill="#353535"/>
<circle cx="651.20" cy="291.84" r="1.85" fill="#353535"/>
<circle cx="651.20" cy="293.04" r="1.85" fill="#353535"/>
<circle cx="651.20" cy="293.50" r="1.85" fill="#353535"/>
<circle cx="651.20" cy="299.60" r="1.85" fill="#353535"/>
<circle cx="651.20" cy="301.60" r="1.85" fill="#353535"/>
<circle cx="651.20" cy="308.20" r="1.85" fill="#353535"/>
<circle cx="651.20" cy="309.10" r="1.85" fill="#353535"/>
<circle cx="651.20" cy="310.54" r="1.85" fill="#353535"/>
<circle cx="651.20" cy="312.34" r="1.85" fill="#353535"/>
<circle cx="651.20" cy="313.80" r="1.85" fill="#353535"/>
<line x1="651.20" x2="651.20" y1="241.50" y2="245.80" stroke="#3d3d3d" stroke-width="1.0"/>
<line x1="651.20" x2="651.20" y1="249.90" y2="254.30" stroke="#3d3d3d" stroke-width="1.0"/>
<rect x="640.55" y="245.80" width="21.3" height="4.10" fill="#50688c" stroke="#3d3d3d" stroke-width="1.0"/>
<line x1="640.55" x2="661.85" y1="247.90" y2="247.90" stroke="#3d3d3d" stroke-width="1.35"/>
</g>
<text x="235.7" y="405.8" font-size="14.2" fill="#000" stroke="#000" stroke-width="0.2">Number of mixing layers</text>
<line x1="399.6" x2="399.6" y1="395.8" y2="406.6" stroke="#3d3d3d" stroke-width="0.9"/>
<rect x="395.05" y="398.1" width="9.1" height="6.4" fill="#EE6E68" stroke="#3d3d3d" stroke-width="0.9"/>
<line x1="395.05" x2="404.15" y1="401.3" y2="401.3" stroke="#3d3d3d" stroke-width="1.3"/>
<text x="409.5" y="405.8" font-size="14.2" fill="#000" stroke="#000" stroke-width="0.2">1</text>
<line x1="427.8" x2="427.8" y1="395.8" y2="406.6" stroke="#3d3d3d" stroke-width="0.9"/>
<rect x="423.25" y="398.1" width="9.1" height="6.4" fill="#10B057" stroke="#3d3d3d" stroke-width="0.9"/>
<line x1="423.25" x2="432.35" y1="401.3" y2="401.3" stroke="#3d3d3d" stroke-width="1.3"/>
<text x="437.9" y="405.8" font-size="14.2" fill="#000" stroke="#000" stroke-width="0.2">2</text>
<line x1="456.1" x2="456.1" y1="395.8" y2="406.6" stroke="#3d3d3d" stroke-width="0.9"/>
<rect x="451.55" y="398.1" width="9.1" height="6.4" fill="#5F8BC9" stroke="#3d3d3d" stroke-width="0.9"/>
<line x1="451.55" x2="460.65" y1="401.3" y2="401.3" stroke="#3d3d3d" stroke-width="1.3"/>
<text x="466.3" y="405.8" font-size="14.2" fill="#000" stroke="#000" stroke-width="0.2">3</text>
</svg>
</body></html>
